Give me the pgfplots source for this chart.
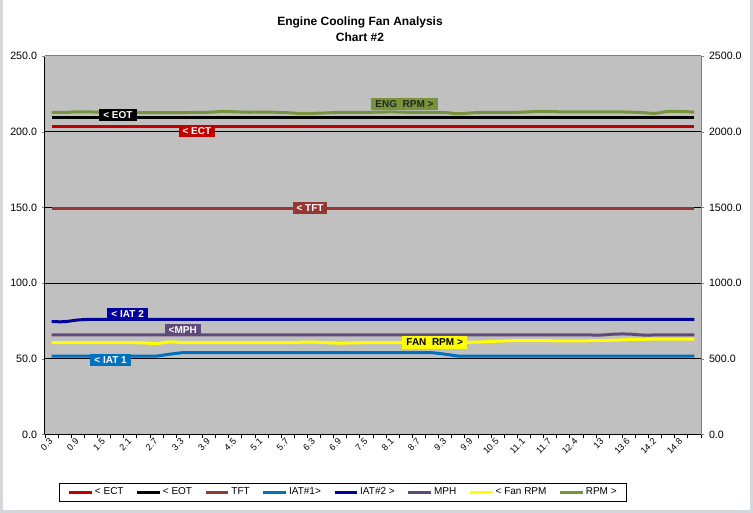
\documentclass[border=0pt]{standalone}
\usepackage{fontspec}
\setmainfont{Liberation Sans}
\usepackage{pgfplots}
\usepackage{pgfplotstable}
\pgfplotsset{compat=1.18}

\definecolor{framegray}{HTML}{D4D8DC}
\definecolor{plotgray}{HTML}{C0C0C0}
\definecolor{axisgray}{HTML}{808080}
\definecolor{ectred}{HTML}{C00000}
\definecolor{tftbrown}{HTML}{953735}
\definecolor{iatblue}{HTML}{0070C0}
\definecolor{iatnavy}{HTML}{00009C}
\definecolor{mphpurple}{HTML}{604A7B}
\definecolor{fanyellow}{HTML}{FFFF00}
\definecolor{rpmgreen}{HTML}{77933C}

\pgfplotstableread{
i ECT EOT TFT IATa IATb MPH FAN RPM
0 203.2 209.2 149.0 51.8 74.5 65.7 606 2128
1 203.2 209.2 149.0 51.8 74.5 65.7 606 2127
2 203.2 209.2 149.0 51.8 75.6 65.7 606 2131
3 203.2 209.2 149.0 51.8 76.0 65.7 606 2130
4 203.2 209.2 149.0 51.8 76.0 65.7 606 2127
5 203.2 209.2 149.0 51.8 76.0 65.7 606 2127
6 203.2 209.2 149.0 51.8 76.0 65.7 606 2128
7 203.2 209.2 149.0 51.8 76.0 65.7 605 2126
8 203.2 209.2 149.0 51.8 76.0 65.7 601 2125
9 203.2 209.2 149.0 53.0 76.0 65.7 611 2126
10 203.2 209.2 149.0 54.0 76.0 65.7 607 2126
11 203.2 209.2 149.0 54.0 76.0 65.7 606 2127
12 203.2 209.2 149.0 54.0 76.0 65.7 606 2128
13 203.2 209.2 149.0 54.0 76.0 65.7 606 2133
14 203.2 209.2 149.0 54.0 76.0 65.7 606 2131
15 203.2 209.2 149.0 54.0 76.0 65.7 606 2128
16 203.2 209.2 149.0 54.0 76.0 65.7 606 2129
17 203.2 209.2 149.0 54.0 76.0 65.7 606 2128
18 203.2 209.2 149.0 54.0 76.0 65.7 606 2125
19 203.2 209.2 149.0 54.0 76.0 65.7 609 2120
20 203.2 209.2 149.0 54.0 76.0 65.7 610 2121
21 203.2 209.2 149.0 54.0 76.0 65.7 606 2124
22 203.2 209.2 149.0 54.0 76.0 65.7 603 2127
23 203.2 209.2 149.0 54.0 76.0 65.7 605 2128
24 203.2 209.2 149.0 54.0 76.0 65.7 606 2127
25 203.2 209.2 149.0 54.0 76.0 65.7 606 2129
26 203.2 209.2 149.0 54.0 76.0 65.7 606 2130
27 203.2 209.2 149.0 54.0 76.0 65.7 606 2128
28 203.2 209.2 149.0 54.0 76.0 65.7 606 2127
29 203.2 209.2 149.0 54.0 76.0 65.7 606 2128
30 203.2 209.2 149.0 53.0 76.0 65.7 606 2126
31 203.2 209.2 149.0 51.8 76.0 65.7 607 2118
32 203.2 209.2 149.0 51.8 76.0 65.7 609 2124
33 203.2 209.2 149.0 51.8 76.0 65.7 612 2127
34 203.2 209.2 149.0 51.8 76.0 65.7 616 2128
35 203.2 209.2 149.0 51.8 76.0 65.7 619 2127
36 203.2 209.2 149.0 51.8 76.0 65.7 620 2129
37 203.2 209.2 149.0 51.8 76.0 65.7 620 2133
38 203.2 209.2 149.0 51.8 76.0 65.7 619 2133
39 203.2 209.2 149.0 51.8 76.0 65.7 618 2130
40 203.2 209.2 149.0 51.8 76.0 65.7 618 2131
41 203.2 209.2 149.0 51.8 76.0 65.7 619 2131
42 203.2 209.2 149.0 51.8 76.0 65.7 621 2131
43 203.2 209.2 149.0 51.8 76.0 66.3 623 2131
44 203.2 209.2 149.0 51.8 76.0 66.3 626 2129
45 203.2 209.2 149.0 51.8 76.0 65.7 628 2126
46 203.2 209.2 149.0 51.8 76.0 65.7 630 2121
47 203.2 209.2 149.0 51.8 76.0 65.7 630 2134
48 203.2 209.2 149.0 51.8 76.0 65.7 630 2133
49 203.2 209.2 149.0 51.8 76.0 65.7 630 2129
}\datatable

\tikzset{lbl/.style={font=\bfseries\fontsize{7.5}{9}\selectfont, inner xsep=3pt, inner ysep=2pt, text=white}}

\pgfplotsset{
  common/.style={
    at={(33.75pt,58.9pt)}, anchor=south west,
    scale only axis, width=492pt, height=283.9pt,
    xmin=-0.5, xmax=49.5, clip=false,
    tick align=outside,
    major tick length=2.5pt,
    /pgf/number format/assume math mode=true,
    /pgf/number format/1000 sep={},
    yticklabel style={/pgf/number format/fixed, /pgf/number format/fixed zerofill, /pgf/number format/precision=1,
      /pgf/number format/1000 sep={}, font=\fontsize{8}{9}\selectfont},
    axis line style={-, line width=0.75pt},
  },
}

\begin{document}
\begin{tikzpicture}[x=1pt,y=1pt]
\fill[framegray] (0,0) rectangle (564.75,384.75);
\fill[white] (2.25,2.25) rectangle (562.5,384.75);
\node[font=\bfseries\fontsize{9}{12}\selectfont, align=center] at (270,363) {Engine Cooling Fan Analysis\\Chart \#2};

\begin{axis}[common,
  ymin=0, ymax=250, ytick={0,50,...,200},
  extra y ticks={250}, extra tick style={grid=none},
  axis x line*=bottom, axis y line*=left,
  axis background/.style={fill=plotgray},
  ymajorgrids, grid style={black, line width=0.6pt},
  xtick={0,2,...,48},
  xticklabels={0.3,0.9,1.5,2.1,2.7,3.3,3.9,4.5,5.1,5.7,6.3,6.9,7.5,8.1,8.7,9.3,9.9,10.5,11.1,11.7,12.4,13,13.6,14.2,14.8},
  minor xtick={-0.5,0.5,...,49.5},
  xtick style={draw=none},
  minor x tick style={draw=black, line width=0.6pt},
  minor tick length=3pt,
  xticklabel style={rotate=45, anchor=east, font=\fontsize{6.8}{8}\selectfont, xshift=2pt, yshift=-1pt},
  legend columns=8,
  legend style={at={(0.454,-0.153)}, anchor=center, draw=black, line width=0.6pt,
    font=\fontsize{7.5}{9}\selectfont, inner xsep=6pt, inner ysep=2pt,
    nodes={inner xsep=1pt, inner ysep=1.5pt},
    /tikz/every even column/.append style={column sep=8pt}},
  legend image code/.code={\draw[#1, line width=2.5pt] (0pt,0pt) -- (17pt,0pt);},
  every axis plot/.append style={line width=2.25pt, no markers, smooth},
]
\addplot[ectred] table[x=i, y=ECT] {\datatable}; \addlegendentry{< ECT}
\addplot[black] table[x=i, y=EOT] {\datatable}; \addlegendentry{< EOT}
\addplot[tftbrown] table[x=i, y=TFT] {\datatable}; \addlegendentry{TFT}
\addplot[iatblue] table[x=i, y=IATa] {\datatable}; \addlegendentry{IAT\#1>}
\addplot[iatnavy] table[x=i, y=IATb] {\datatable}; \addlegendentry{IAT\#2 >}
\addplot[mphpurple] table[x=i, y=MPH] {\datatable}; \addlegendentry{MPH}
\addlegendimage{fanyellow}\addlegendentry{< Fan RPM}
\addlegendimage{rpmgreen}\addlegendentry{RPM >}
\draw[axisgray, line width=0.75pt] (rel axis cs:0,1) -- (rel axis cs:1,1);
\end{axis}

\begin{axis}[common,
  ymin=0, ymax=2500, ytick={0,500,...,2500},
  axis y line*=right, axis x line=none,
  y axis line style={draw=axisgray},
  ytick style={draw=axisgray},
  every axis plot/.append style={line width=2.25pt, no markers, smooth},
]
\addplot[fanyellow] table[x=i, y=FAN] {\datatable};
\addplot[rpmgreen] table[x=i, y=RPM] {\datatable};
\end{axis}

\begin{axis}[common, ymin=0, ymax=250, hide axis]
\node[lbl, fill=black] at (axis cs:5.06,211) {< EOT};
\node[lbl, fill=ectred] at (axis cs:11.08,200.5) {< ECT};
\node[lbl, fill=rpmgreen, text=black!85] at (axis cs:26.9,218.3) {ENG\ \ RPM >};
\node[lbl, fill=tftbrown] at (axis cs:19.7,149.6) {< TFT};
\node[lbl, fill=iatnavy] at (axis cs:5.8,79.6) {< IAT 2};
\node[lbl, fill=mphpurple] at (axis cs:10.0,69.0) {<MPH};
\node[lbl, fill=fanyellow, text=black] at (axis cs:29.2,60.8) {FAN\ \ RPM >};
\node[lbl, fill=iatblue] at (axis cs:4.5,49.2) {< IAT 1};
\end{axis}
\end{tikzpicture}
\end{document}
